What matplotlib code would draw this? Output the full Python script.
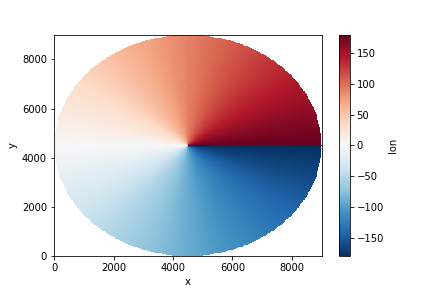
import numpy as np
import matplotlib
matplotlib.use("Agg")
import matplotlib.pyplot as plt

# grid coordinates (cell centres) and disc geometry
x = np.arange(0, 9001, 30)
y = np.arange(0, 9001, 30)
center = (4500, 4500)
radius = 4500

xx, yy = np.meshgrid(x, y)
dx = xx - center[0]
dy = yy - center[1]
lon = np.degrees(np.arctan2(dy, -dx))
lon = np.ma.masked_where(dx**2 + dy**2 > radius**2, lon)

fig, ax = plt.subplots(figsize=(6, 4), dpi=72)
mesh = ax.pcolormesh(x, y, lon, cmap="RdBu_r", vmin=-180, vmax=180, shading="nearest")
ax.set_xlabel("x")
ax.set_ylabel("y")
cb = fig.colorbar(mesh, ax=ax)
cb.set_label("lon")
fig.savefig("out.png")
